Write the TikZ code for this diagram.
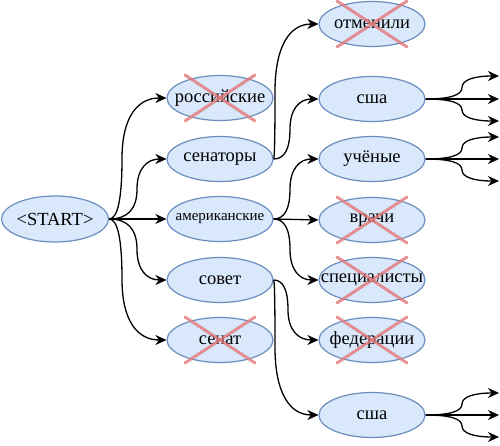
\documentclass[tikz,border=0pt]{standalone}
\usepackage{fontspec}
\setmainfont{Liberation Serif}
\usetikzlibrary{shapes.geometric,arrows.meta,calc}
\definecolor{nodefill}{HTML}{DAE8FC}
\definecolor{nodeline}{HTML}{6C8EBF}
\definecolor{crossred}{RGB}{226,120,120}
\tikzset{
  wnode/.style={ellipse,draw=nodeline,fill=nodefill,line width=1.2pt,
    minimum width=106pt,minimum height=45pt,inner sep=0pt,
    font=\fontsize{18.5}{21}\selectfont},
  arr/.style={line width=1.3pt,-{Stealth[length=11pt,width=10pt,inset=3.5pt]}},
  xline/.style={draw=crossred,line width=3pt,line cap=round,opacity=0.8}
}
\newcommand\conn[3]{%
  \draw[arr] let \p1=(#1), \p2=(#2), \n1={#3*1pt}, \n2={(\y1+\y2)/2} in
    (\p1) .. controls ({\x1+2/3*(\n1-\x1)},\y1) and (\n1,{\n2+2/3*(\y1-\n2)}) .. (\n1,\n2)
    .. controls (\n1,{\n2+2/3*(\y2-\n2)}) and ({\x2+2/3*(\n1-\x2)},\y2) .. (\p2);}
\newcommand\xout[1]{%
  \draw[xline] ($(#1.center)+(-35,-23)$) -- ($(#1.center)+(35,23)$);
  \draw[xline] ($(#1.center)+(-35,23)$) -- ($(#1.center)+(35,-23)$);}
\newcommand\tx[1]{\makebox[0pt]{#1}}
\begin{document}
\begin{tikzpicture}[x=1pt,y=-1pt]
\useasboundingbox (0,0) rectangle (500,446);
% column 1
\node[wnode,minimum width=107pt,minimum height=46pt] (start) at (55,219) {\tx{<START>}};
% column 2
\node[wnode] (ros) at (220,98) {\tx{российские}};
\node[wnode] (sen) at (220,159) {\tx{сенаторы}};
\node[wnode,font=\fontsize{15}{18}\selectfont] (amer) at (220,219) {\tx{американские}};
\node[wnode] (sov) at (220,280) {\tx{совет}};
\node[wnode] (senat) at (220,340) {\tx{сенат}};
% column 3
\node[wnode] (otm) at (372,24) {\tx{отменили}};
\node[wnode] (ssha) at (372,99) {\tx{сша}};
\node[wnode] (uch) at (372,159) {\tx{учёные}};
\node[wnode] (vra) at (372,220) {\tx{врачи}};
\node[wnode] (spec) at (372,280) {\tx{специалисты}};
\node[wnode] (fed) at (372,340) {\tx{федерации}};
\node[wnode] (sshb) at (372,415) {\tx{сша}};
% free ends
\coordinate (a1) at (499,76);
\coordinate (a2) at (499,99);
\coordinate (a3) at (499,121);
\coordinate (b1) at (499,137);
\coordinate (b2) at (499,159);
\coordinate (b3) at (499,181);
\coordinate (c1) at (499,393);
\coordinate (c2) at (499,415);
\coordinate (c3) at (499,437);
% edges from start
\conn{start.east}{ros.west}{122}
\conn{start.east}{sen.west}{137}
\draw[arr] (start.east) -- (amer.west);
\conn{start.east}{sov.west}{137}
\conn{start.east}{senat.west}{122}
% edges from column 2
\conn{sen.east}{otm.west}{275}
\conn{sen.east}{ssha.west}{290}
\conn{amer.east}{uch.west}{290}
\draw[arr] (amer.east) -- (vra.west);
\conn{amer.east}{spec.west}{290}
\conn{sov.east}{fed.west}{288}
\conn{sov.east}{sshb.west}{275}
% fan-outs
\conn{ssha.east}{a1}{462}
\draw[arr] (ssha.east) -- (a2);
\conn{ssha.east}{a3}{462}
\conn{uch.east}{b1}{462}
\draw[arr] (uch.east) -- (b2);
\conn{uch.east}{b3}{462}
\conn{sshb.east}{c1}{462}
\draw[arr] (sshb.east) -- (c2);
\conn{sshb.east}{c3}{462}
% crosses
\xout{ros}
\xout{senat}
\xout{otm}
\xout{vra}
\xout{spec}
\xout{fed}
\end{tikzpicture}
\end{document}
